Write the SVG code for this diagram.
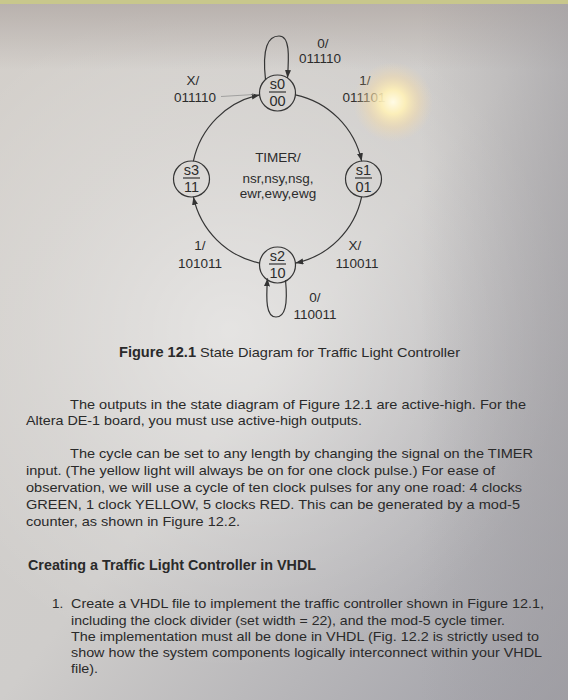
<svg xmlns="http://www.w3.org/2000/svg" width="568" height="700" viewBox="0 0 568 700">
<defs>
<linearGradient id="bg" x1="0" y1="0" x2="1" y2="1">
<stop offset="0" stop-color="#d4d0cb"/>
<stop offset="0.5" stop-color="#cfcdcb"/>
<stop offset="1" stop-color="#9e9ea6"/>
</linearGradient>
<radialGradient id="lite" cx="230" cy="330" r="340" gradientUnits="userSpaceOnUse">
<stop offset="0" stop-color="#ffffff" stop-opacity="0.45"/>
<stop offset="0.6" stop-color="#ffffff" stop-opacity="0.15"/>
<stop offset="1" stop-color="#ffffff" stop-opacity="0"/>
</radialGradient>
<linearGradient id="topband" x1="0" y1="0" x2="0" y2="1">
<stop offset="0" stop-color="#b4aca8" stop-opacity="0.9"/>
<stop offset="1" stop-color="#b4aca8" stop-opacity="0"/>
</linearGradient>
<linearGradient id="rightband" x1="0" y1="0" x2="1" y2="0">
<stop offset="0" stop-color="#a09ea2" stop-opacity="0"/>
<stop offset="1" stop-color="#a09ea2" stop-opacity="0.6"/>
</linearGradient>
<radialGradient id="glare" cx="393" cy="102" r="40" gradientUnits="userSpaceOnUse">
<stop offset="0" stop-color="#fffbe6" stop-opacity="1"/>
<stop offset="0.3" stop-color="#fff1b8" stop-opacity="0.92"/>
<stop offset="0.65" stop-color="#f6dca8" stop-opacity="0.45"/>
<stop offset="1" stop-color="#f0d8b0" stop-opacity="0"/>
</radialGradient>
<marker id="ah" markerWidth="9" markerHeight="7" refX="8" refY="3" orient="auto" markerUnits="userSpaceOnUse">
<path d="M0,0 L8,3 L0,6 z" fill="#333"/>
</marker>
<style>
.ln{fill:none;stroke:#353535;stroke-width:1.2}
.nd{fill:none;stroke:#353535;stroke-width:1.2}
.lb{font-family:"Liberation Sans",Arial,sans-serif;font-size:13.5px;fill:#2c2c2c;text-anchor:middle}
.nt{font-family:"Liberation Sans",Arial,sans-serif;font-size:14.5px;fill:#2c2c2c;text-anchor:middle}
.bt{font-family:"Liberation Sans",Arial,sans-serif;font-size:13.5px;fill:#2a2a2a}
.bb{font-family:"Liberation Sans",Arial,sans-serif;font-size:14px;fill:#2a2a2a;font-weight:bold}
</style>
</defs>
<rect width="568" height="700" fill="url(#bg)"/>
<rect width="568" height="700" fill="url(#lite)"/>
<rect width="568" height="70" fill="url(#topband)"/>
<rect x="420" width="148" height="700" fill="url(#rightband)"/>
<rect width="568" height="4" fill="#c8c78c"/>

<g id="connectors">
<path class="ln" d="M295.38,94.88 A86,86 0 0 1 361.62,161.12" marker-end="url(#ah)"/>
<path class="ln" d="M361.62,196.88 A86,86 0 0 1 295.38,263.12" marker-end="url(#ah)"/>
<path class="ln" d="M259.62,263.12 A86,86 0 0 1 193.38,196.88" marker-end="url(#ah)"/>
<path class="ln" d="M193.38,161.12 A86,86 0 0 1 259.62,94.88" marker-end="url(#ah)"/>
<path class="ln" d="M265.5,79.6 C262,48 268,36 279,36 C290,36 289,56 287.5,78" marker-end="url(#ah)"/>
<path class="ln" d="M285.5,280 C288,305 285,317 276,317 C266,317 266,300 267.5,278.4" marker-end="url(#ah)"/>
<path d="M221,96.5 L254,94.5" stroke="#8a8a8a" stroke-width="0.7" fill="none"/>
</g>

<g id="s0">
<circle class="nd" cx="277.5" cy="93" r="18"/>
<text class="nt" x="277.5" y="89">s0</text>
<line x1="269" y1="92" x2="286" y2="92" stroke="#353535" stroke-width="1.2"/>
<text class="nt" x="277.5" y="106">00</text>
</g>
<g id="s1">
<circle class="nd" cx="363.5" cy="179" r="18"/>
<text class="nt" x="363.5" y="175">s1</text>
<line x1="355" y1="178" x2="372" y2="178" stroke="#353535" stroke-width="1.2"/>
<text class="nt" x="363.5" y="192">01</text>
</g>
<g id="s2">
<circle class="nd" cx="277.5" cy="265" r="18"/>
<text class="nt" x="277.5" y="261">s2</text>
<line x1="269" y1="264" x2="286" y2="264" stroke="#353535" stroke-width="1.2"/>
<text class="nt" x="277.5" y="278">10</text>
</g>
<g id="s3">
<circle class="nd" cx="191.5" cy="179" r="18"/>
<text class="nt" x="191.5" y="175">s3</text>
<line x1="183" y1="178" x2="200" y2="178" stroke="#353535" stroke-width="1.2"/>
<text class="nt" x="191.5" y="192">11</text>
</g>

<g id="labels">
<text class="lb" x="323" y="48">0/</text>
<text class="lb" x="320" y="63">011110</text>
<text class="lb" x="193" y="85">X/</text>
<text class="lb" x="195" y="102">011110</text>
<text class="lb" x="365" y="85">1/</text>
<text class="lb" x="364" y="102">011101</text>
<text class="lb" x="278" y="162">TIMER/</text>
<text class="lb" x="278" y="183">nsr,nsy,nsg,</text>
<text class="lb" x="278" y="198">ewr,ewy,ewg</text>
<text class="lb" x="200" y="250">1/</text>
<text class="lb" x="200" y="268">101011</text>
<text class="lb" x="355" y="250">X/</text>
<text class="lb" x="357" y="268">110011</text>
<text class="lb" x="315" y="302">0/</text>
<text class="lb" x="315" y="319">110011</text>
</g>

<g id="caption">
<text class="bb" x="119" y="357" font-size="14.5px" textLength="77" lengthAdjust="spacingAndGlyphs">Figure 12.1</text>
<text class="bt" x="200" y="357" font-size="14.5px" textLength="260" lengthAdjust="spacingAndGlyphs">State Diagram for Traffic Light Controller</text>
</g>

<g id="body">
<text class="bt" x="70" y="409" textLength="456" lengthAdjust="spacingAndGlyphs">The outputs in the state diagram of Figure 12.1 are active-high. For the</text>
<text class="bt" x="26" y="425" textLength="336" lengthAdjust="spacingAndGlyphs">Altera DE-1 board, you must use active-high outputs.</text>
<text class="bt" x="70" y="458" textLength="463" lengthAdjust="spacingAndGlyphs">The cycle can be set to any length by changing the signal on the TIMER</text>
<text class="bt" x="26" y="475" textLength="469" lengthAdjust="spacingAndGlyphs">input. (The yellow light will always be on for one clock pulse.) For ease of</text>
<text class="bt" x="26" y="492" textLength="496" lengthAdjust="spacingAndGlyphs">observation, we will use a cycle of ten clock pulses for any one road: 4 clocks</text>
<text class="bt" x="26" y="509" textLength="494" lengthAdjust="spacingAndGlyphs">GREEN, 1 clock YELLOW, 5 clocks RED. This can be generated by a mod-5</text>
<text class="bt" x="26" y="526" textLength="214" lengthAdjust="spacingAndGlyphs">counter, as shown in Figure 12.2.</text>
<text class="bb" x="28" y="570" textLength="288" lengthAdjust="spacingAndGlyphs">Creating a Traffic Light Controller in VHDL</text>
<text class="bt" x="52" y="608">1.</text>
<text class="bt" x="71" y="608" textLength="473" lengthAdjust="spacingAndGlyphs">Create a VHDL file to implement the traffic controller shown in Figure 12.1,</text>
<text class="bt" x="71" y="625" textLength="434" lengthAdjust="spacingAndGlyphs">including the clock divider (set width = 22), and the mod-5 cycle timer.</text>
<text class="bt" x="71" y="641" textLength="468" lengthAdjust="spacingAndGlyphs">The implementation must all be done in VHDL (Fig. 12.2 is strictly used to</text>
<text class="bt" x="71" y="657" textLength="471" lengthAdjust="spacingAndGlyphs">show how the system components logically interconnect within your VHDL</text>
<text class="bt" x="71" y="673" textLength="27" lengthAdjust="spacingAndGlyphs">file).</text>
</g>

<circle cx="393" cy="102" r="40" fill="url(#glare)"/>
</svg>
